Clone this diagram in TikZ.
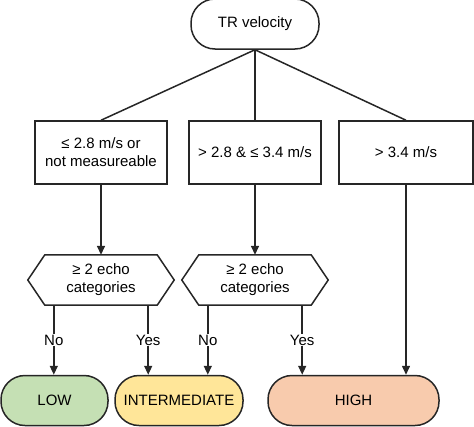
\documentclass[tikz,border=0pt]{standalone}
\usepackage{fontspec}
\setmainfont{Liberation Sans}
\usetikzlibrary{arrows.meta,calc}
\definecolor{lowc}{HTML}{C5E0B4}
\definecolor{intc}{HTML}{FFE699}
\definecolor{highc}{HTML}{F8CBAD}
\begin{document}
\begin{tikzpicture}[x=1pt,y=-1pt,
  every node/.style={font=\fontsize{15}{18}\selectfont, align=center, inner sep=0pt},
  lw/.style={line width=1.5pt, draw=black!85},
  stad/.style={draw, lw, rounded corners=24pt, minimum height=50pt},
  crit/.style={draw, lw, minimum height=63pt},
  hexn/.style={minimum width=112pt, minimum height=50pt},
  arr/.style={lw, -{Triangle[length=9pt,width=8pt]}},
  lab/.style={fill=white, inner sep=1pt}]
\useasboundingbox (0,0) rectangle (474,426);
\node[stad, minimum width=128pt] (tr) at (255,24) {TR velocity};
\node[crit, minimum width=132pt] (b1) at (101,152.5) {≤ 2.8 m/s or\\not measureable};
\node[crit, minimum width=132pt] (b2) at (255,152.5) {> 2.8 \& ≤ 3.4 m/s};
\node[crit, minimum width=134pt] (b3) at (406,152.5) {> 3.4 m/s};
\node[hexn] (h1) at (101,280) {≥ 2 echo\\categories};
\node[hexn] (h2) at (255,280) {≥ 2 echo\\categories};
\foreach \h in {h1,h2}{
  \draw[lw] (\h.north west) -- (\h.north east) -- ([xshift=17pt]\h.east) -- (\h.south east)
    -- (\h.south west) -- ([xshift=-17pt]\h.west) -- cycle;
}
\node[stad, fill=lowc, minimum width=107pt] (low) at (54.5,400.5) {LOW};
\node[stad, fill=intc, minimum width=128pt] (int) at (179,400.5) {INTERMEDIATE};
\node[stad, fill=highc, minimum width=171pt] (high) at (353.5,400.5) {HIGH};
\draw[lw] (tr.south) -- (b1.north);
\draw[lw] (tr.south) -- (b2.north);
\draw[lw] (tr.south) -- (b3.north);
\draw[arr] (b1.south) -- (h1.north);
\draw[arr] (b2.south) -- (h2.north);
\draw[arr] (b3.south) -- (b3.south |- high.north);
\coordinate (h1n) at ([xshift=9pt]h1.south west);
\coordinate (h1y) at ([xshift=-9pt]h1.south east);
\coordinate (h2n) at ([xshift=9pt]h2.south west);
\coordinate (h2y) at ([xshift=-9pt]h2.south east);
\draw[arr] (h1n) -- (h1n |- low.north) node[lab, pos=0.5] {No};
\draw[arr] (h1y) -- (h1y |- int.north) node[lab, pos=0.5] {Yes};
\draw[arr] (h2n) -- (h2n |- int.north) node[lab, pos=0.5] {No};
\draw[arr] (h2y) -- (h2y |- high.north) node[lab, pos=0.5] {Yes};
\end{tikzpicture}
\end{document}
